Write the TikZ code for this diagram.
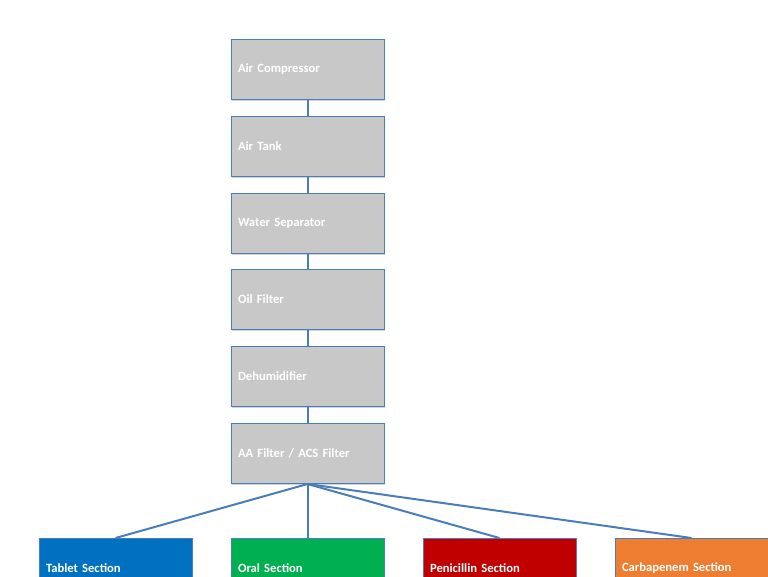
\documentclass[tikz,border=0pt]{standalone}
\usepackage{fontspec}
\setmainfont{Carlito}
\usetikzlibrary{shadows}
\definecolor{edgeblue}{HTML}{4A7EBB}
\definecolor{boxgray}{HTML}{C8C8C8}
\definecolor{tabletc}{HTML}{0070C0}
\definecolor{oralc}{HTML}{00B050}
\definecolor{penc}{HTML}{C00000}
\definecolor{carbc}{HTML}{ED7D31}
\tikzset{
  box/.style={rectangle, draw=edgeblue, line width=1pt, fill=boxgray,
    minimum width=153pt, minimum height=60pt, text width=139pt,
    inner xsep=7pt, align=left, text=white, font=\bfseries\fontsize{12.6}{14}\selectfont,
    drop shadow={shadow xshift=1.2pt, shadow yshift=-1.2pt, opacity=0.35}},
  link/.style={draw=edgeblue, line width=2pt}
}
\begin{document}
\begin{tikzpicture}[x=1pt,y=-1pt]
\useasboundingbox (0,0) rectangle (768,576);
\clip (0,0) rectangle (768,576);
\node[box] (ac) at (307.5,69.5) {Air Compressor};
\node[box] (at) at (307.5,146.5) {Air Tank};
\node[box] (ws) at (307.5,223.5) {Water Separator};
\node[box] (of) at (307.5,299.5) {Oil Filter};
\node[box] (dh) at (307.5,376.5) {Dehumidifier};
\node[box] (aa) at (307.5,453.5) {AA Filter / ACS Filter};
\node[box, fill=tabletc] (ts) at (115.5,568.5) {Tablet Section};
\node[box, fill=oralc] (os) at (307.5,568.5) {Oral Section};
\node[box, fill=penc] (ps) at (499.5,568.5) {Penicillin Section};
\node[box, fill=carbc] (cs) at (691.5,568.5) {Carbapenem Section};
\draw[link] (ac.south) -- (at.north);
\draw[link] (at.south) -- (ws.north);
\draw[link] (ws.south) -- (of.north);
\draw[link] (of.south) -- (dh.north);
\draw[link] (dh.south) -- (aa.north);
\draw[link] (aa.south) -- (ts.north);
\draw[link] (aa.south) -- (os.north);
\draw[link] (aa.south) -- (ps.north);
\draw[link] (aa.south) -- (cs.north);
\end{tikzpicture}
\end{document}
